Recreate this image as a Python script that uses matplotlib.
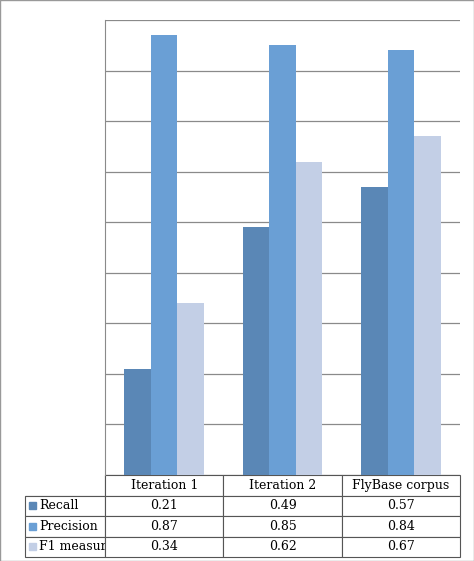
import matplotlib
matplotlib.use("Agg")
import matplotlib.pyplot as plt
from matplotlib.patches import Rectangle

categories = ["Iteration 1", "Iteration 2", "FlyBase corpus"]
series = ["Recall", "Precision", "F1 measure"]
recall = [0.21, 0.49, 0.57]
precision = [0.87, 0.85, 0.84]
f1 = [0.34, 0.62, 0.67]
colors = ["#5a87b6", "#6a9fd5", "#c3cfe6"]

fig = plt.figure(figsize=(4.74, 5.61), dpi=100)
fig.patches.append(Rectangle((0, 0), 1, 1, transform=fig.transFigure, fill=False,
                             edgecolor="#999999", lw=1))
ax = fig.add_axes([105/474, 86/561, 355/474, 455/561])
w = 0.225
vals = [recall, precision, f1]
for i, (v, c) in enumerate(zip(vals, colors)):
    ax.bar([x + (i - 1) * w for x in range(3)], v, width=w, color=c, zorder=3)
ax.set_xlim(-0.5, 2.5)
ax.set_ylim(0, 0.9)
ax.set_yticks([i / 10 for i in range(10)])
ax.yaxis.grid(True, color="#8a8a8a", lw=0.9, zorder=0)
ax.tick_params(left=False, labelleft=False, bottom=False, labelbottom=False)
for s in ["top", "right", "bottom"]:
    ax.spines[s].set_visible(False)
ax.spines["left"].set_color("#8a8a8a")

# table
x0 = (25 - 105) / 355
h = 82 / 455
cell = [["", *categories]] + [[s, *[f"{x:.2f}" for x in v]] for s, v in zip(series, vals)]
tb = ax.table(cellText=cell, bbox=[x0, -h, 1 - x0, h], cellLoc="center")
tb.auto_set_font_size(False)
colw = [80 / 435] + [118 / 435] * 3
for (r, c), cl in tb.get_celld().items():
    cl.set_width(colw[c])
    cl.set_edgecolor("#555555")
    cl.set_linewidth(0.8)
    t = cl.get_text()
    t.set_fontsize(9)
    t.set_family("DejaVu Serif")
    if c == 0:
        t.set_ha("left")
        cl.PAD = 0.18
        if r == 0:
            cl.visible_edges = "BR"
            cl.set_edgecolor("#555555")
for i, c in enumerate(colors):
    yc = -h + h * (3 - i - 0.5) / 4
    ax.add_patch(Rectangle((x0 + 0.012, yc - 0.008), 0.018, 0.016, transform=ax.transAxes,
                           color=c, clip_on=False))
fig.savefig("out.png", dpi=100)
